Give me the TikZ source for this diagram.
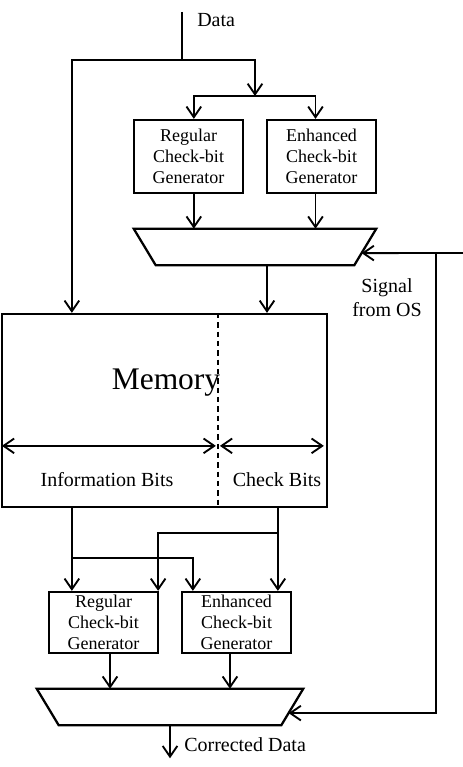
\documentclass[tikz,border=0pt]{standalone}
\usepackage{fontspec}
\setmainfont{Liberation Serif}
\usetikzlibrary{arrows.meta,calc}

\begin{document}
\begin{tikzpicture}[x=0.75pt,y=-0.75pt]
\tikzstyle{wire}=[line width=1.4pt]
\tikzstyle{arr}=[wire,-{Straight Barb[length=8pt,width=11pt]}]
\tikzstyle{dblarr}=[wire,{Straight Barb[length=8pt,width=11pt]}-{Straight Barb[length=8pt,width=11pt]}]
\tikzstyle{gen}=[draw,line width=1.7pt,minimum width=81.75pt,inner sep=0pt,align=center,font=\fontsize{13.5}{15.75}\selectfont]
\tikzstyle{lbl}=[inner sep=0pt,font=\fontsize{15}{18}\selectfont]
\tikzstyle{muxbox}=[inner sep=0pt,minimum height=27pt]
\tikzstyle{muxline}=[line width=1.7pt]

\useasboundingbox (0,0) rectangle (463,767);

\node[gen,minimum height=54.75pt] (genRA) at (188.5,156.5) {Regular\\Check-bit\\Generator};
\node[gen,minimum height=54.75pt] (genEA) at (321.5,156.5) {Enhanced\\Check-bit\\Generator};
\node[muxbox,minimum width=181.5pt] (muxA) at (255,247) {};
\coordinate (muxAse) at ([xshift=-16.5pt]muxA.south east);
\coordinate (muxAsw) at ([xshift=16.5pt]muxA.south west);
\draw[muxline] (muxA.north west) -- (muxA.north east) -- (muxAse) -- (muxAsw) -- cycle;

\node[draw,line width=1.7pt,minimum width=243.75pt,minimum height=144.75pt] (memory) at (164.5,410.5) {};
\node[font=\fontsize{23.6}{28}\selectfont,anchor=base,inner sep=0pt] (memlbl) at (166,389) {Memory};
\node[lbl,anchor=base] (infolbl) at (107,486) {Information Bits};
\node[lbl,anchor=base] (chklbl) at (277,486) {Check Bits};
\coordinate (divN) at ($(memory.north west)+(217,0)$);
\draw[line width=1.1pt,dash pattern=on 4pt off 3pt] (divN) -- (divN |- memory.south);
\coordinate (infoL) at ($(memory.north west)+(1,133)$);
\coordinate (infoR) at ($(memory.north west)+(215,133)$);
\coordinate (chkL) at ($(memory.north west)+(219,133)$);
\coordinate (chkR) at ($(memory.north west)+(323,133)$);
\draw[dblarr] (infoL) -- (infoR);
\draw[dblarr] (chkL) -- (chkR);

\node[gen,minimum height=45.75pt] (genRB) at (103.5,622.5) {Regular\\Check-bit\\Generator};
\node[gen,minimum height=45.75pt] (genEB) at (236.5,622.5) {Enhanced\\Check-bit\\Generator};
\node[muxbox,minimum width=199.5pt] (muxB) at (170,707) {};
\coordinate (muxBse) at ([xshift=-16.5pt]muxB.south east);
\coordinate (muxBsw) at ([xshift=16.5pt]muxB.south west);
\draw[muxline] (muxB.north west) -- (muxB.north east) -- (muxBse) -- (muxBsw) -- cycle;

\node[lbl,anchor=base west] (datalbl) at (197,27) {Data};
\node[lbl,align=center] (oslbl) at (387,298) {Signal\\from OS};
\node[lbl,anchor=base west] (corrlbl) at (184,751) {Corrected Data};

\coordinate (datain) at (182,12);
\coordinate (dsplit) at (182,60);
\coordinate (gensplit) at (255,96);
\draw[wire] (datain) -- (dsplit);
\draw[arr] (dsplit) -| ([xshift=53.25pt]memory.north west);
\draw[arr] (dsplit) -| (gensplit);
\draw[arr] (gensplit) -| ([xshift=4pt]genRA.north);
\draw[arr] (gensplit) -| ([xshift=-4.5pt]genEA.north);
\draw[arr] ([xshift=4pt]genRA.south) -- ([xshift=4pt]genRA.south |- muxA.north);
\draw[arr] ([xshift=-4.5pt]genEA.south) -- ([xshift=-4.5pt]genEA.south |- muxA.north);
\draw[arr] ([xshift=9pt]muxA.south) -- ([xshift=9pt]muxA.south |- memory.north);

\coordinate (infoout) at ($(memory.south west)+(71,0)$);
\coordinate (chkout) at ($(memory.south west)+(277,0)$);
\coordinate (chksplit) at ($(chkout)+(0,25)$);
\coordinate (infosplit) at ($(infoout)+(0,50)$);
\draw[arr] (infoout) -- (infoout |- genRB.north);
\draw[arr] (chkout) -- (chkout |- genEB.north);
\draw[arr] (chksplit) -| ([xshift=-0.75pt]genRB.north east);
\draw[arr] (infosplit) -| ([xshift=9pt]genEB.north west);
\draw[arr] ([xshift=4.9pt]genRB.south) -- ([xshift=4.9pt]genRB.south |- muxB.north);
\draw[arr] ([xshift=-4.9pt]genEB.south) -- ([xshift=-4.9pt]genEB.south |- muxB.north);
\coordinate (dataout) at ($(muxB.south)+(0,33)$);
\draw[arr] (muxB.south) -- (dataout);

\coordinate (osin) at (463,253);
\coordinate (osturn) at (436,253);
\coordinate (muxAin) at ($(muxA.north east)!0.667!(muxAse)$);
\coordinate (muxBin) at ($(muxB.north east)!0.667!(muxBse)$);
\draw[arr] (osin) -- (muxAin);
\draw[arr] (osturn) |- (muxBin);
\end{tikzpicture}
\end{document}
